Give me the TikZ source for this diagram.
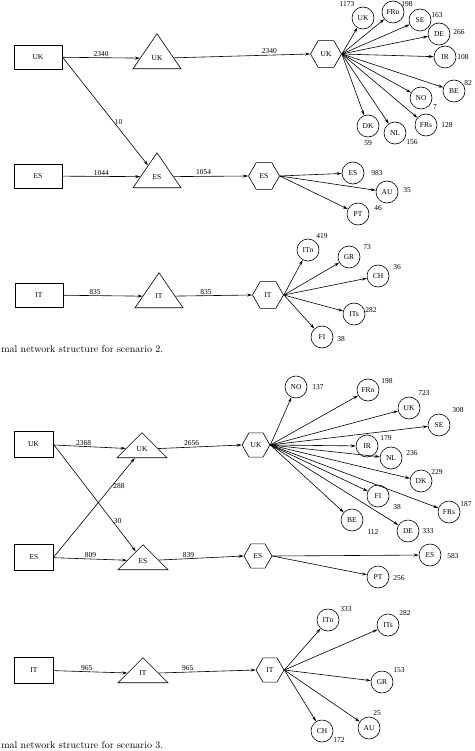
\documentclass[tikz,border=0pt]{standalone}
\usepackage{fontspec}
\newfontfamily\figfont{Liberation Serif}
\usetikzlibrary{shapes.geometric,arrows.meta}

\begin{document}
\begin{tikzpicture}[x=1pt,y=-1pt,line width=0.6pt,
		font=\figfont\fontsize{7.5}{8}\selectfont,
		plant/.style={draw,minimum width=48pt,minimum height=24pt,inner sep=0pt},
		dc/.style={draw,isosceles triangle,isosceles triangle stretches,shape border rotate=90,inner sep=0pt,anchor=apex},
		hub/.style={draw,regular polygon,regular polygon sides=6,minimum size=31pt,inner sep=0pt},
		mkt/.style={draw,circle,minimum size=22pt,inner sep=0pt},
		flow/.style={-{Stealth[length=5pt,width=3pt]}},
		qty/.style={inner sep=1pt}]
		\useasboundingbox (0,0) rectangle (474,751);
		\node[plant] (bUKa) at (38,57) {UK};
		\node[plant] (bESa) at (38,176) {ES};
		\node[plant] (bITa) at (39,295) {IT};
		\node[dc,minimum width=48pt,minimum height=35pt] (tUKa) at (157,33) {UK};
		\node[dc,minimum width=48pt,minimum height=35pt] (tESa) at (157,152) {ES};
		\node[dc,minimum width=48pt,minimum height=35pt] (tITa) at (159,272) {IT};
		\node[hub] (hUKa) at (326,54) {UK};
		\node[hub] (hESa) at (264,176) {ES};
		\node[hub] (hITa) at (268,295) {IT};
		\draw[flow] (bUKa) -- node[qty,above]{2340} (tUKa);
		\draw[flow] (tUKa) -- node[qty,above,pos=0.7]{2340} (hUKa.west);
		\draw[flow] (bUKa.east) -- node[qty,right,pos=0.6]{10} (tESa);
		\draw[flow] (bESa) -- node[qty,above]{1044} (tESa);
		\draw[flow] (tESa) -- node[qty,above,pos=0.4]{1054} (hESa.west);
		\draw[flow] (bITa) -- node[qty,above,pos=0.4]{835} (tITa);
		\draw[flow] (tITa) -- node[qty,above,pos=0.4]{835} (hITa.west);
		\node[anchor=base west,inner sep=0pt,font=\fontsize{10}{12}\selectfont] (capa) at (1,352) {mal network structure for scenario 2.};
		\node[plant,minimum width=39pt,minimum height=26pt] (bUKb) at (33.5,444) {UK};
		\node[plant,minimum width=39pt,minimum height=26pt] (bESb) at (34,557) {ES};
		\node[plant,minimum width=39pt,minimum height=26pt] (bITb) at (34,670) {IT};
		\node[dc,minimum width=50pt,minimum height=25pt] (tUKb) at (142,432) {UK};
		\node[dc,minimum width=50pt,minimum height=25pt] (tESb) at (143,544) {ES};
		\node[dc,minimum width=50pt,minimum height=25pt] (tITb) at (143,657) {IT};
		\node[hub,minimum size=28pt] (hUKb) at (256,445) {UK};
		\node[hub,minimum size=28pt] (hESb) at (258,556) {ES};
		\node[hub,minimum size=28pt] (hITb) at (270,670) {IT};
		\draw[flow] (bUKb) -- node[qty,above,pos=0.42]{2368} (tUKb);
		\draw[flow] (tUKb) -- node[qty,above,pos=0.4]{2656} (hUKb.west);
		\draw[flow] (bUKb.east) -- node[qty,right,pos=0.72]{30} (tESb);
		\draw[flow] (bESb.east) -- node[qty,right,pos=0.72]{288} (tUKb);
		\draw[flow] (bESb) -- node[qty,above]{809} (tESb);
		\draw[flow] (tESb) -- node[qty,above,pos=0.35]{839} (hESb.west);
		\draw[flow] (bITb) -- node[qty,above,pos=0.45]{965} (tITb);
		\draw[flow] (tITb) -- node[qty,above,pos=0.3]{965} (hITb.west);
		\node[anchor=base west,inner sep=0pt,font=\fontsize{10}{12}\selectfont] (capb) at (1,748) {mal network structure for scenario 3.};
		\foreach \s/\h/\t/\x/\y/\u/\w/\v in {
			a/UK/UK/363/18/347/4/1173, a/UK/FRn/393/12/407/4/198, a/UK/SE/420/20/437/15/163,
			a/UK/DE/439/34/459/32/266, a/UK/IR/445/57/463/57/108, a/UK/BE/454/91/468/83/82,
			a/UK/NO/421/98/435/107/7, a/UK/FRs/426/125/447/125/128, a/UK/DK/368/126/368/143/59,
			a/UK/NL/395/133/412/142/156,
			a/ES/ES/353/173/377/173/983, a/ES/AU/387/192/407/190/35, a/ES/PT/358/214/378/208/46,
			a/IT/ITn/308/250/322/236/419, a/IT/GR/349/257/367/247/73, a/IT/CH/378/276/397/267/36,
			a/IT/ITs/354/314/371/310/282, a/IT/FI/322/337/341/339/38,
			b/UK/NO/296/387/318/387/137, b/UK/FRn/368/390/387/381/198, b/UK/UK/409/408/424/393/723,
			b/UK/SE/439/425/458/410/308, b/UK/IR/367/446/386/438/179, b/UK/NL/391/458/412/453/236,
			b/UK/DK/421/481/437/472/229, b/UK/FI/378/496/397/507/38, b/UK/FRs/449/512/466/504/187,
			b/UK/BE/352/520/373/532/112, b/UK/DE/408/531/428/531/333,
			b/ES/ES/430/555/453/556/583, b/ES/PT/378/577/399/578/256,
			b/IT/ITn/328/620/346/609/333, b/IT/ITs/388/625/405/613/282, b/IT/GR/382/682/399/670/153,
			b/IT/AU/369/728/377/713/25, b/IT/CH/322/731/339/740/172}{
			\node[mkt] (m\t\s) at (\x,\y) {\t};
			\node[qty] (v\t\s) at (\u,\w) {\v};
			\draw[flow] (h\h\s.east) -- (m\t\s);
		}
\end{tikzpicture}
\end{document}
